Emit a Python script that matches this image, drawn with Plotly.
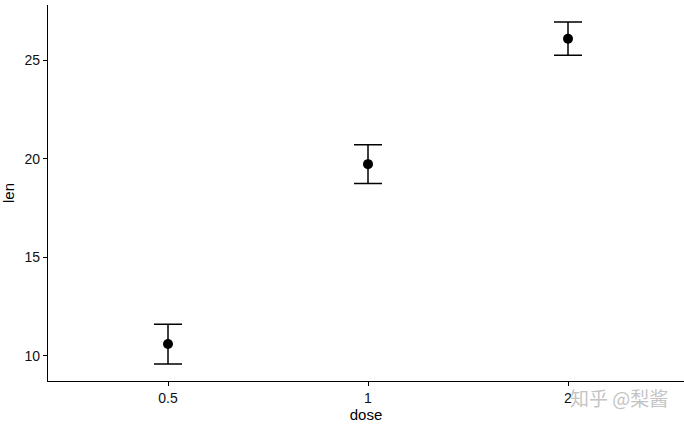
import plotly.graph_objects as go

doses = ["0.5", "1", "2"]
mean_len = [10.605, 19.735, 26.100]
se_len = [1.006, 0.987, 0.844]

fig = go.Figure()
fig.add_trace(go.Scatter(
    x=doses, y=mean_len, mode="markers",
    marker=dict(color="black", size=10),
    error_y=dict(type="data", array=se_len, visible=True, color="black", thickness=1.5, width=14),
    showlegend=False,
))

fig.update_layout(
    width=684, height=426,
    margin=dict(l=48, r=0, t=5, b=45, autoexpand=False),
    plot_bgcolor="white", paper_bgcolor="white",
    font=dict(family="Liberation Sans, Arial, sans-serif", color="black", size=14),
    xaxis=dict(
        type="category", range=[-0.6, 2.58],
        showline=True, linecolor="black", linewidth=1.3,
        ticks="outside", ticklen=4, tickcolor="black", tickwidth=1.3,
        showgrid=False, zeroline=False,
        tickfont=dict(size=14, color="#111111"),
        title=dict(text="dose", font=dict(size=15), standoff=4),
    ),
    yaxis=dict(
        range=[8.73, 27.81], tickvals=[10, 15, 20, 25],
        showline=True, linecolor="black", linewidth=1.3,
        ticks="outside", ticklen=4, tickcolor="black", tickwidth=1.3,
        showgrid=False, zeroline=False,
        tickfont=dict(size=14, color="#111111"),
        title=dict(text="len", font=dict(size=15), standoff=6),
    ),
    annotations=[dict(
        text="知乎 @梨酱", xref="paper", yref="paper", x=1, y=0,
        xanchor="right", yanchor="top", xshift=-14, yshift=-1,
        showarrow=False,
        font=dict(family="Noto Sans CJK SC", size=19, color="#c4c4c4"),
    )],
)

fig.write_html(
    "out.html",
    config={"displayModeBar": False},
    post_script="document.body.style.margin='0';document.body.style.overflow='hidden';",
)
